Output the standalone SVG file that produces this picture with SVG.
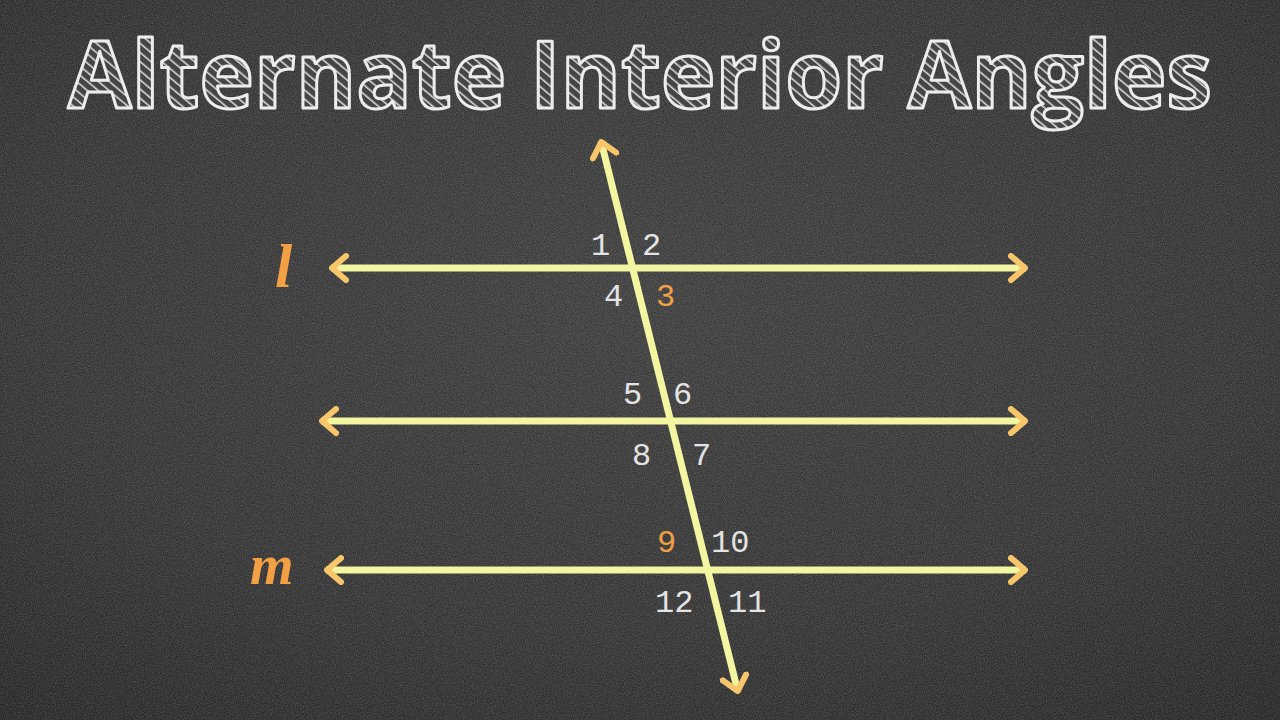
<svg xmlns="http://www.w3.org/2000/svg" width="1280" height="720" viewBox="0 0 1280 720">
<defs>
<radialGradient id="bg" cx="50%" cy="40%" r="80%">
<stop offset="0" stop-color="#3b3b3b"/>
<stop offset="0.6" stop-color="#313131"/>
<stop offset="1" stop-color="#232323"/>
</radialGradient>
<filter id="noise" x="0" y="0" width="100%" height="100%">
<feTurbulence type="fractalNoise" baseFrequency="0.9" numOctaves="2" seed="3" result="n"/>
<feColorMatrix in="n" type="matrix" values="0 0 0 0 1  0 0 0 0 1  0 0 0 0 1  0 0 0 0.3 -0.08"/>
</filter>
<pattern id="hatch" width="7" height="7" patternUnits="userSpaceOnUse" patternTransform="rotate(-50)">
<rect width="7" height="7" fill="#454545"/>
<line x1="0" y1="0" x2="0" y2="7" stroke="#e0e0e0" stroke-width="3"/>
</pattern>
<marker id="chev" viewBox="0 0 20 30" refX="18" refY="15" markerWidth="20" markerHeight="30" markerUnits="userSpaceOnUse" orient="auto-start-reverse">
<path d="M3,3 L17,15 L3,27" fill="none" stroke="#f7c66a" stroke-width="6" stroke-linecap="round" stroke-linejoin="round"/>
</marker>
<style>
.ln{stroke:#f3f6a0;stroke-width:7;fill:none;marker-start:url(#chev);marker-end:url(#chev)}
.num{font-family:"Liberation Mono","DejaVu Sans Mono",monospace;font-size:32px;fill:#e4e4e4}
.hi{fill:#f2a043}
.lab{font-family:"Liberation Serif",serif;font-style:italic;font-weight:bold;fill:#f2a043}
.title{font-family:"Open Sans","Liberation Sans",sans-serif;font-weight:bold;font-size:94px;fill:url(#hatch);stroke:#ededed;stroke-width:3;stroke-linejoin:round}
</style>
</defs>
<rect width="1280" height="720" fill="url(#bg)"/>
<rect width="1280" height="720" filter="url(#noise)"/>
<g id="title">
<text class="title" x="68" y="108" textLength="1144" lengthAdjust="spacingAndGlyphs">Alternate Interior Angles</text>
</g>
<g id="connectors">
<line class="ln" x1="331" y1="268" x2="1026" y2="268"/>
<line class="ln" x1="321" y1="421" x2="1026" y2="421"/>
<line class="ln" x1="326" y1="570" x2="1026" y2="570"/>
<line class="ln" x1="601" y1="141" x2="738" y2="692"/>
</g>
<g id="line-l"><text class="lab" x="275" y="287" font-size="62">l</text></g>
<g id="line-m"><text class="lab" x="250" y="584" font-size="56">m</text></g>
<g id="angles">
<text class="num" x="591" y="255">1</text>
<text class="num" x="642" y="255">2</text>
<text class="num" x="604" y="306">4</text>
<text class="num hi" x="656" y="306">3</text>
<text class="num" x="623" y="404">5</text>
<text class="num" x="673" y="404">6</text>
<text class="num" x="632" y="465">8</text>
<text class="num" x="692" y="465">7</text>
<text class="num hi" x="657" y="552">9</text>
<text class="num" x="711" y="552">10</text>
<text class="num" x="655" y="612">12</text>
<text class="num" x="728" y="612">11</text>
</g>
</svg>
